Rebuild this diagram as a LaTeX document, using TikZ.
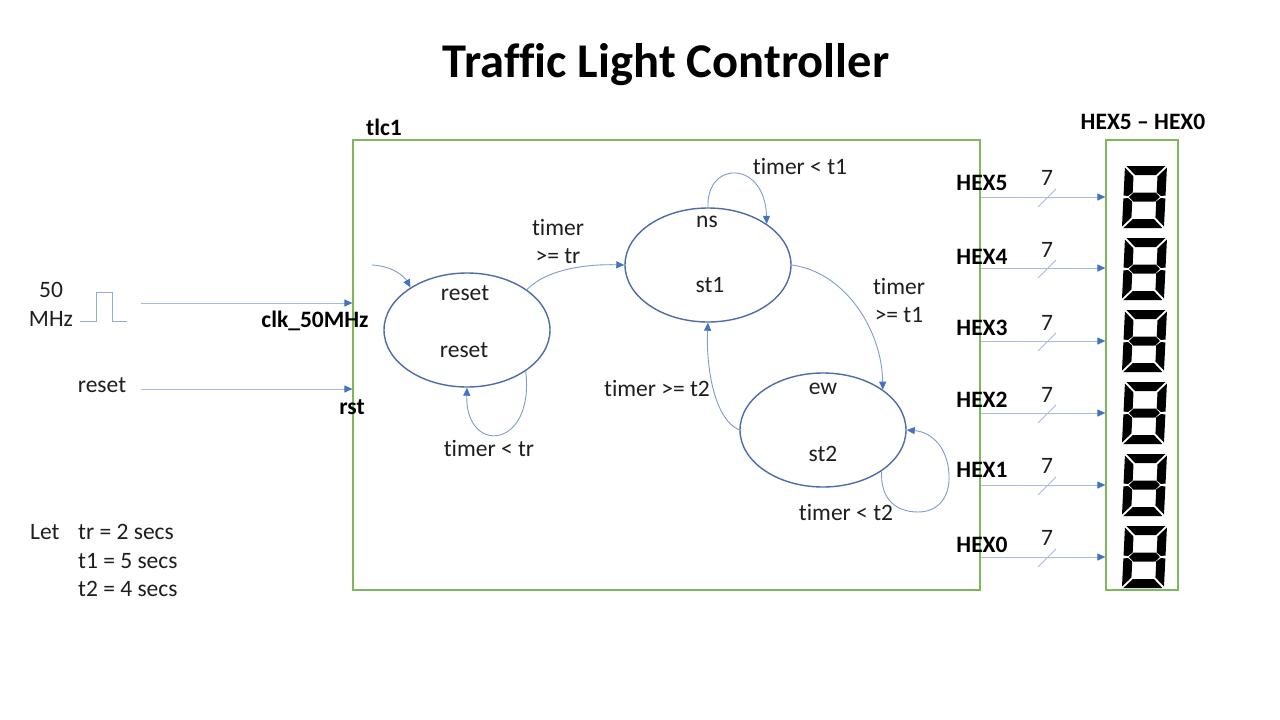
\documentclass[tikz,border=0pt]{standalone}
\usepackage{fontspec}
\setmainfont{Carlito}[Ligatures=NoCommon]
\usetikzlibrary{shapes.geometric,arrows.meta,calc}
\definecolor{boxgreen}{RGB}{125,185,90}
\definecolor{stateblue}{RGB}{78,108,170}
\definecolor{linkblue}{RGB}{130,155,205}
\definecolor{headblue}{RGB}{68,114,196}
\definecolor{hexline}{RGB}{165,188,225}
\definecolor{wave}{RGB}{150,172,205}
\definecolor{txt}{RGB}{30,30,30}
\tikzset{
  lbl/.style={font=\fontsize{23.5}{28}\selectfont, inner sep=0pt, text=txt, align=center},
  blbl/.style={lbl, font=\fontsize{23.5}{28}\selectfont\bfseries, text=black},
  state/.style={draw=stateblue, line width=1.4pt, ellipse, minimum width=166pt, minimum height=114pt, inner sep=0pt},
  frame/.style={draw=boxgreen, line width=1.2pt, rectangle, inner sep=0pt},
  link/.style={draw=linkblue, line width=0.9pt, -{Triangle[length=8pt,width=7pt,color=headblue]}},
  hexarrow/.style={draw=hexline, line width=1pt, -{Triangle[length=8pt,width=7pt,color=headblue]}},
  sevenseg/.pic={
    \fill[black] (1.5,0) -- (40.5,0) -- (31.5,9) -- (10.5,9) -- cycle;
    \fill[black] (0,1.5) -- (9,10.5) -- (9,26.5) -- (4.5,30) -- (0,29.5) -- cycle;
    \fill[black] (42,1.5) -- (33,10.5) -- (33,26.5) -- (37.5,30) -- (42,29.5) -- cycle;
    \fill[black] (5.5,31) -- (10,26.5) -- (32,26.5) -- (36.5,31) -- (32,35.5) -- (10,35.5) -- cycle;
    \fill[black] (0,60.5) -- (9,51.5) -- (9,35.5) -- (4.5,32) -- (0,32.5) -- cycle;
    \fill[black] (42,60.5) -- (33,51.5) -- (33,35.5) -- (37.5,32) -- (42,32.5) -- cycle;
    \fill[black] (1.5,62) -- (40.5,62) -- (31.5,53) -- (10.5,53) -- cycle;
  }
}
\begin{document}
\begin{tikzpicture}[x=1pt,y=-1pt]
\useasboundingbox (0,0) rectangle (1280,720);
\fill[white] (0,0) rectangle (1280,720);

% title
\node[lbl, font=\fontsize{48.5}{58}\selectfont\bfseries, text=black] (title) at (666,65) {Traffic Light Controller};

% main block
\node[frame, minimum width=627pt, minimum height=450pt] (tlc) at (666.5,365) {};
\node[blbl] (tlcname) at (384,127) {tlc1};

% display block
\node[frame, minimum width=72pt, minimum height=450pt] (disp) at (1142,365) {};
\node[blbl] (dispname) at (1143,122) {HEX5 – HEX0};
\foreach \k in {0,...,5} {
  \pic[xslant=0.05] at (1125,{166+72*\k}) {sevenseg};
}

% inputs
\node[lbl] (f50) at (51,290) {50};
\node[lbl] (fmhz) at (51,319) {MHz};
\draw[wave, line width=1pt] (80,321) -- (96,321) -- (96,292) -- (112,292) -- (112,321) -- (127,321);
\coordinate (clkin) at (141,303);
\draw[hexarrow] (clkin) -- (clkin -| tlc.west);
\node[blbl] (clkname) at (315,321) {clk\_50MHz};
\node[lbl] (rstin) at (102,385) {reset};
\coordinate (rstsrc) at (141,389);
\draw[hexarrow] (rstsrc) -- (rstsrc -| tlc.west);
\node[blbl] (rstname) at (352,407) {rst};

% constants
\node[lbl, anchor=west] (let) at (30,532) {Let};
\node[lbl, anchor=west] (ctr) at (78,532) {tr = 2 secs};
\node[lbl, anchor=west] (ct1) at (78,561) {t1 = 5 secs};
\node[lbl, anchor=west] (ct2) at (78,589) {t2 = 4 secs};

% states
\node[state] (R) at (467,330) {};
\node[lbl] (Ra) at (465,293) {reset};
\node[lbl] (Rb) at (464,350) {reset};
\node[state] (N) at (708,265) {};
\node[lbl] (Na) at (707,222) {ns};
\node[lbl] (Nb) at (710,285) {st1};
\node[state] (E) at (823,430) {};
\node[lbl] (Ea) at (823,389) {ew};
\node[lbl] (Eb) at (823,454) {st2};

% transitions
\coordinate (init) at (372,265);
\draw[link] (init) .. controls (392,266) and (404,276) .. (R.143);
\draw[link] (R.-35) .. controls (535,450) and (465,455) .. (R.-90);
\node[lbl] (lRR) at (489,448) {timer < tr};
\draw[link] (R.34) .. controls (548,268) and (590,264) .. (N.180);
\node[lbl] (lRN) at (558,241) {timer\\>= tr};
\draw[link] (N.90) .. controls (706,160) and (765,160) .. (N.35);
\node[lbl] (lNN) at (800,167) {timer < t1};
\draw[link] (N.0) .. controls (845,272) and (882,330) .. (E.34);
\node[lbl] (lNE) at (899,300) {timer\\>= t1};
\draw[link] (E.180) .. controls (712,418) and (706,360) .. (N.-90);
\node[lbl] (lEN) at (657,388) {timer >= t2};
\coordinate (eeb) at (918,512);
\coordinate (eer) at (949,475);
\draw[link] (E.-35) .. controls (880,498) and (895,512) .. (eeb)
  .. controls (940,512) and (950,495) .. (eer)
  .. controls (948,448) and (932,432) .. (E.0);
\node[lbl] (lEE) at (846,512) {timer < t2};

% HEX outputs
\foreach \k/\ly/\ay/\sy in {5/183/197/178, 4/257/268/250, 3/328/341/323, 2/400/413/395, 1/470/485/466, 0/545/557/538} {
  \node[blbl] (hexl\k) at (982,\ly) {HEX\k};
  \coordinate (hexs\k) at (980,\ay);
  \draw[hexarrow] (hexs\k -| tlc.east) -- (hexs\k -| disp.west);
  \coordinate (slash\k) at (1047,\ay);
  \draw[hexline, line width=1pt] ($(slash\k)+(-9,10)$) -- ($(slash\k)+(9,-8)$);
  \node[lbl] (hexn\k) at (1047,\sy) {7};
}
\end{tikzpicture}
\end{document}
